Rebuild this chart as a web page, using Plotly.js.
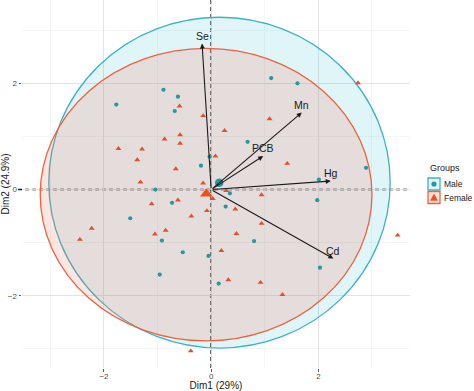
<!DOCTYPE html>
<html>
<head>
<meta charset="utf-8">
<script src="https://cdn.plot.ly/plotly-3.0.1.min.js"></script>
<style>
html,body{margin:0;padding:0;background:#fff;}
#chart{width:474px;height:391px;}
</style>
</head>
<body>
<div id="chart"></div>
<script>
// ---- data ----
const groupNames = ['Male', 'Female'];

const maleX = [-0.89, -0.62, -1.77, -0.68, 1.12, 1.61, -0.03, -0.19, 0.68, 2.89, 2.01, 1.98,
               -1.04, -0.73, -1.51, -0.92, -0.53, -0.05, -0.96, 0.14, 0.35, 0.27, 0.80, 2.03];
const maleY = [1.88, 1.75, 1.60, 1.48, 2.10, 2.00, 0.62, 0.45, 0.90, 0.41, 0.19, -0.20,
               0.00, -0.25, -0.54, -0.96, -1.18, -1.25, -1.60, -1.77, -0.07, -0.32, -0.97, -1.47];

const femaleX = [-0.59, -0.15, 0.25, -0.87, -0.58, -0.58, -1.73, -1.29, -1.38, 0.08, -0.66, -1.32,
                 -0.15, 2.74, 1.09, 1.42, 0.94, 0.28, 0.03, -1.11, -0.62, -0.37, -0.08, -2.23,
                 -2.45, -1.05, -0.85, 0.19, 0.32, 0.45, 0.47, 0.94, 3.48, 0.92, 1.33, -0.38];
const femaleY = [1.57, 1.39, 1.11, 0.95, 1.03, 0.87, 0.77, 0.76, 0.56, 0.63, 0.39, 0.14,
                 0.12, 2.01, 1.33, 0.49, -0.10, -0.02, -0.17, -0.27, -0.20, -0.50, -0.40, -0.73,
                 -0.94, -0.84, -0.77, -1.15, -1.70, -0.37, -0.83, -0.64, -0.86, -1.75, -1.98, -3.04];

const meanX = [0.15, -0.09];
const meanY = [0.13, -0.08];

const varNames = ['Se', 'Mn', 'PCB', 'Hg', 'Cd'];
const varX = [-0.17, 1.69, 0.97, 2.23, 2.28];
const varY = [2.75, 1.45, 0.63, 0.16, -1.30];

// concentration ellipses (centre and semi-axes) per group
const ellCx = [0.155, -0.095];
const ellCy = [0.13, -0.095];
const ellRx = [3.185, 3.095];
const ellRy = [3.115, 2.755];

const xTickVals = [-2, 0, 2];
const yTickVals = [-2, 0, 2];

// ---- styles ----
const FONT = 'Liberation Sans, Arial, sans-serif';
const lineCol = ['#3DB3C1', '#EC6240'];
const fillCol = ['rgba(0,175,195,0.12)', 'rgba(255,85,60,0.15)'];
const ptCol = ['#2a969e', '#e0502c'];

// ---- traces ----
const traces = [
  {type: 'scatter', mode: 'markers', name: groupNames[0], x: maleX, y: maleY,
   marker: {symbol: 'circle', size: 4.2, color: ptCol[0]}, hoverinfo: 'x+y+name'},
  {type: 'scatter', mode: 'markers', name: groupNames[1], x: femaleX, y: femaleY,
   marker: {symbol: 'triangle-up', size: 5.2, color: ptCol[1]}, hoverinfo: 'x+y+name'},
  {type: 'scatter', mode: 'markers', name: groupNames[0] + ' mean', x: [meanX[0]], y: [meanY[0]],
   marker: {symbol: 'circle', size: 8.5, color: ptCol[0]}},
  {type: 'scatter', mode: 'markers', name: groupNames[1] + ' mean', x: [meanX[1]], y: [meanY[1]],
   marker: {symbol: 'triangle-up', size: 11, color: '#f0501e'}}
];

// ---- shapes: ellipses, reference lines, legend keys ----
const shapes = [];
for (let g = 0; g < 2; g++) {
  shapes.push({type: 'circle', xref: 'x', yref: 'y', layer: 'between',
    x0: ellCx[g] - ellRx[g], x1: ellCx[g] + ellRx[g],
    y0: ellCy[g] - ellRy[g], y1: ellCy[g] + ellRy[g],
    fillcolor: fillCol[g], line: {color: lineCol[g], width: 1.3}});
}
shapes.push({type: 'line', xref: 'paper', yref: 'y', x0: -0.01, x1: 1, y0: 0, y1: 0, layer: 'between',
  line: {color: '#000', width: 1.5, dash: '4px,3px'}});
shapes.push({type: 'line', xref: 'x', yref: 'paper', x0: 0, x1: 0, y0: 0, y1: 1, layer: 'between',
  line: {color: '#000', width: 1.5, dash: '4px,3px'}});

// legend (drawn by hand in paper coordinates)
const L = 22, W = 388, H = 368;
const px = v => (v - L) / W;
const py = v => 1 - v / H;
const keyY = [184, 197.5];
for (let g = 0; g < 2; g++) {
  shapes.push({type: 'rect', xref: 'paper', yref: 'paper', xsizemode: 'pixel', ysizemode: 'pixel',
    xanchor: px(434), yanchor: py(keyY[g]), x0: -6, x1: 6, y0: -6, y1: 6,
    fillcolor: fillCol[g], line: {color: lineCol[g], width: 1.3}});
}
shapes.push({type: 'circle', xref: 'paper', yref: 'paper', xsizemode: 'pixel', ysizemode: 'pixel',
  xanchor: px(434), yanchor: py(keyY[0]), x0: -2.6, x1: 2.6, y0: -2.6, y1: 2.6,
  fillcolor: ptCol[0], line: {width: 0}});
shapes.push({type: 'path', xref: 'paper', yref: 'paper', xsizemode: 'pixel', ysizemode: 'pixel',
  xanchor: px(434), yanchor: py(keyY[1]), path: 'M -4 -3.2 L 4 -3.2 L 0 4 Z',
  fillcolor: '#f0501e', line: {width: 0}});

// ---- annotations: variable arrows & labels, legend text ----
const annotations = [];
for (let i = 0; i < varNames.length; i++) {
  annotations.push({x: varX[i], y: varY[i], ax: 0, ay: 0, xref: 'x', yref: 'y', axref: 'x', ayref: 'y',
    showarrow: true, arrowhead: 2, arrowsize: 0.9, arrowwidth: 1.1, arrowcolor: '#1a1a1a',
    standoff: 0, startstandoff: 0, text: ''});
  annotations.push({x: varX[i], y: varY[i], xref: 'x', yref: 'y', text: varNames[i], showarrow: false,
    yshift: 8, font: {family: FONT, size: 10.5, color: '#1a1a1a'}});
}
annotations.push({xref: 'paper', yref: 'paper', x: px(428), y: py(168), xanchor: 'left', yanchor: 'middle',
  text: 'Groups', showarrow: false, font: {family: FONT, size: 9, color: '#1a1a1a'}});
for (let g = 0; g < 2; g++) {
  annotations.push({xref: 'paper', yref: 'paper', x: px(442), y: py(keyY[g]), xanchor: 'left', yanchor: 'middle',
    text: groupNames[g], showarrow: false, font: {family: FONT, size: 8.5, color: '#1a1a1a'}});
}

const axisCommon = {
  showgrid: true, gridcolor: '#e0e0e0', gridwidth: 0.8,
  minor: {dtick: 1, showgrid: true, gridcolor: '#efefef', gridwidth: 0.6},
  zeroline: false, showline: false,
  ticks: 'outside', ticklen: 2.5, tickcolor: '#333', tickwidth: 0.8,
  tickfont: {family: FONT, size: 8, color: '#4d4d4d'},
  tickmode: 'array', automargin: false
};

const layout = {
  width: 474, height: 391,
  margin: {l: L, r: 474 - L - W, t: 0, b: 391 - H},
  paper_bgcolor: '#fff', plot_bgcolor: '#fff',
  showlegend: false,
  xaxis: Object.assign({}, axisCommon, {range: [-3.53, 3.71], tickvals: xTickVals, ticklabelstandoff: -2,
    title: {text: 'Dim1 (29%)', standoff: 2, font: {family: FONT, size: 10, color: '#1a1a1a'}}}),
  yaxis: Object.assign({}, axisCommon, {range: [-3.36, 3.57], tickvals: yTickVals,
    title: {text: 'Dim2 (24.9%)', standoff: 1, font: {family: FONT, size: 10, color: '#1a1a1a'}}}),
  shapes: shapes,
  annotations: annotations
};

Plotly.newPlot('chart', traces, layout, {displayModeBar: false, staticPlot: true});
</script>
</body>
</html>
